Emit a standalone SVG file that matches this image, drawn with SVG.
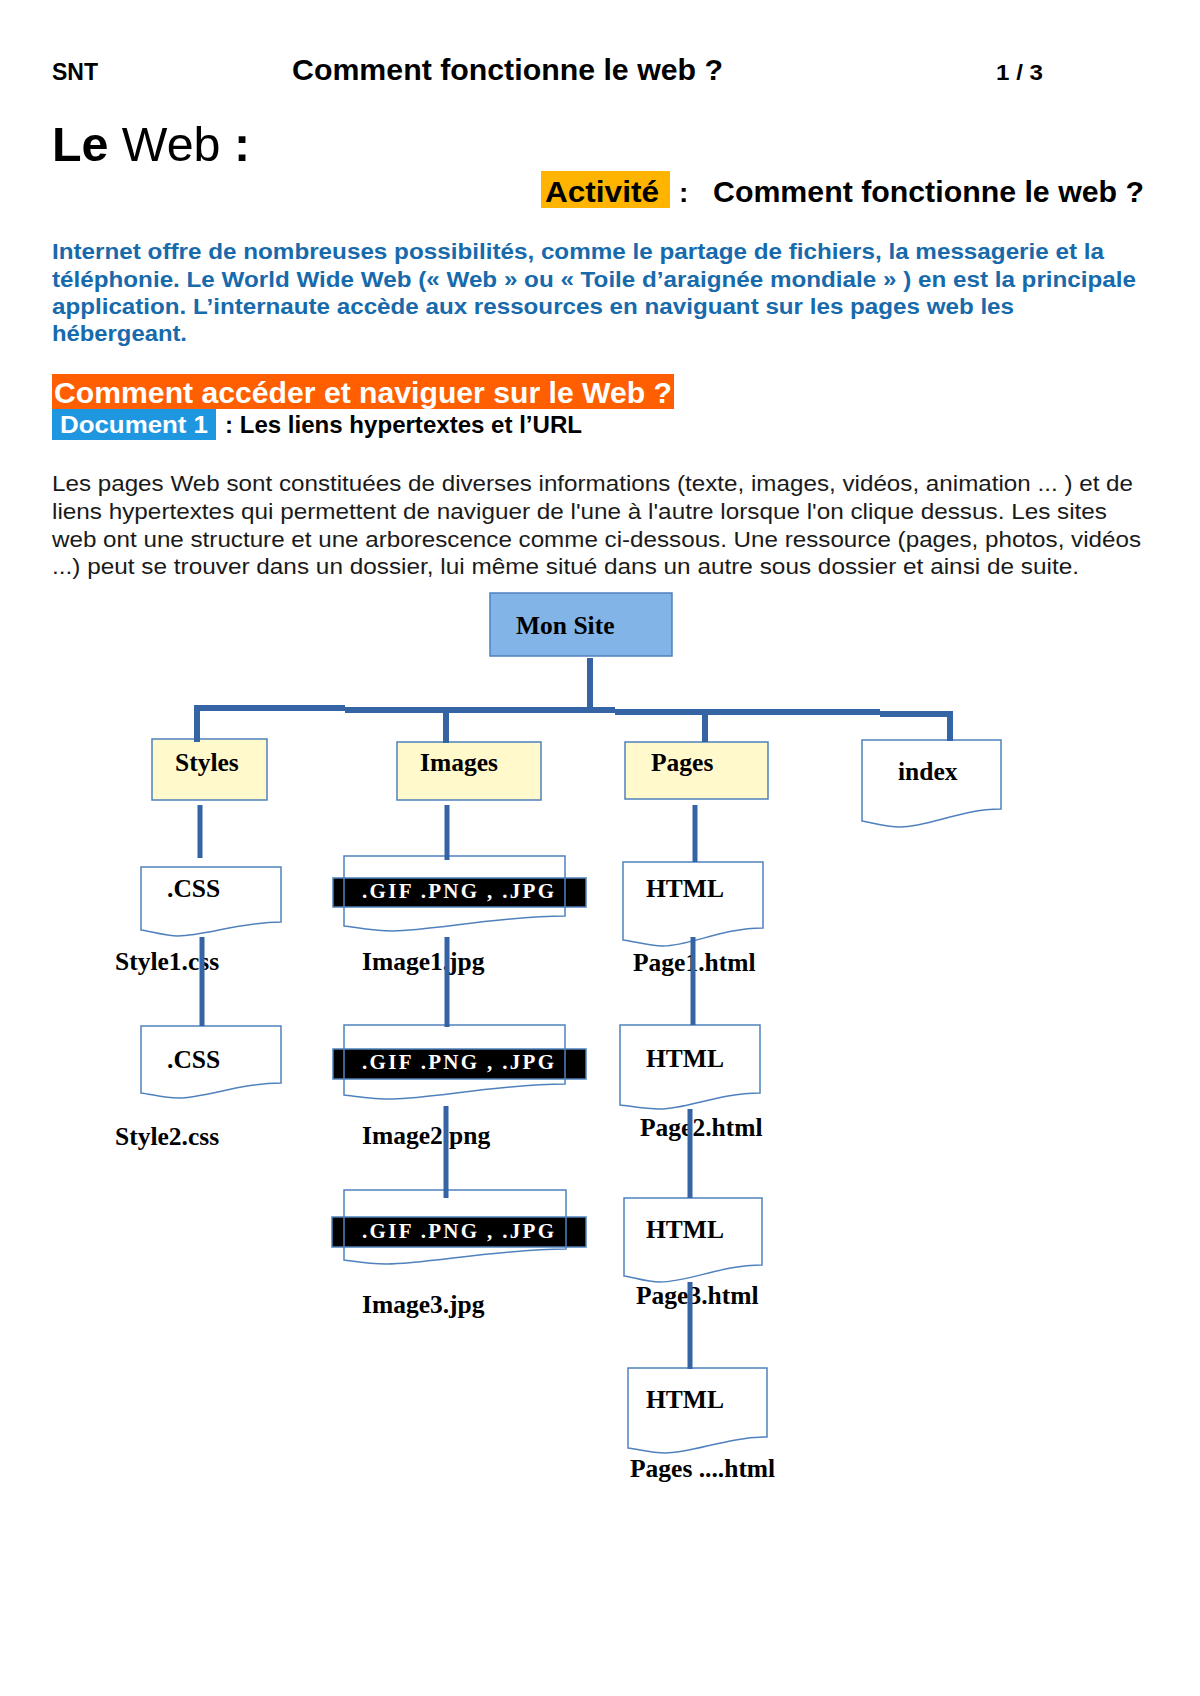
<svg xmlns="http://www.w3.org/2000/svg" width="1200" height="1696" viewBox="0 0 1200 1696">
<style>
.sans{font-family:"Liberation Sans",Arial,sans-serif}
.b{font-weight:bold}
.blue{fill:#176aab;font-family:"Liberation Sans",Arial,sans-serif;font-weight:bold;font-size:21.5px}
.blk{fill:#1a1a1a;font-family:"Liberation Sans",Arial,sans-serif;font-size:22px}
.lbl{font-family:"Liberation Serif","Times New Roman",serif;font-weight:bold;font-size:25.5px;fill:#000}
.bar{fill:#000;stroke:#4f81bd;stroke-width:1.5}
.bartxt{font-family:"Liberation Serif","Times New Roman",serif;font-weight:bold;font-size:21px;fill:#fff}
.doc{fill:none;stroke:#4f81bd;stroke-width:1.5}
.docw{fill:#fff;stroke:#4f81bd;stroke-width:1.5}
.folder{fill:#fff9cc;stroke:#4f81bd;stroke-width:1.5}
.con{stroke:#3464a4;stroke-width:5;fill:none}
.conb{stroke:#3464a4;stroke-width:6;fill:none}
</style>
<rect width="1200" height="1696" fill="#fff"/>

<!-- header -->
<text class="sans b" x="52" y="80" font-size="23">SNT</text>
<text class="sans b" x="292" y="80" font-size="30" textLength="431" lengthAdjust="spacingAndGlyphs">Comment fonctionne le web ?</text>
<text class="sans b" x="996" y="80" font-size="22" textLength="47" lengthAdjust="spacingAndGlyphs">1 / 3</text>
<text class="sans" x="52" y="161" font-size="49" textLength="198" lengthAdjust="spacingAndGlyphs"><tspan font-weight="bold">Le</tspan> Web <tspan font-weight="bold">:</tspan></text>
<rect x="541" y="171" width="129" height="37" fill="#ffb400"/>
<text class="sans b" x="545" y="202" font-size="30" textLength="114" lengthAdjust="spacingAndGlyphs">Activité</text>
<text class="sans b" x="679" y="202" font-size="28">:</text>
<text class="sans b" x="713" y="202" font-size="30" textLength="431" lengthAdjust="spacingAndGlyphs">Comment fonctionne le web ?</text>

<!-- blue paragraph -->
<text class="blue" x="52" y="259" textLength="1052" lengthAdjust="spacingAndGlyphs">Internet offre de nombreuses possibilités, comme le partage de fichiers, la messagerie et la</text>
<text class="blue" x="52" y="287" textLength="1084" lengthAdjust="spacingAndGlyphs">téléphonie. Le World Wide Web (« Web » ou « Toile d’araignée mondiale » ) en est la principale</text>
<text class="blue" x="52" y="314" textLength="962" lengthAdjust="spacingAndGlyphs">application. L’internaute accède aux ressources en naviguant sur les pages web les</text>
<text class="blue" x="52" y="341" textLength="135" lengthAdjust="spacingAndGlyphs">hébergeant.</text>

<!-- section header -->
<rect x="52" y="374" width="622" height="35" fill="#ff5f00"/>
<text class="sans b" x="54" y="403" font-size="29" fill="#fff" textLength="618" lengthAdjust="spacingAndGlyphs">Comment accéder et naviguer sur le Web ?</text>
<rect x="52" y="409" width="164" height="31" fill="#1f97e0"/>
<text class="sans b" x="60" y="433" font-size="24" fill="#fff" textLength="148" lengthAdjust="spacingAndGlyphs">Document 1</text>
<text class="sans b" x="225" y="433" font-size="24" textLength="357" lengthAdjust="spacingAndGlyphs">: Les liens hypertextes et l’URL</text>

<!-- black paragraph -->
<text class="blk" x="52" y="491" textLength="1081" lengthAdjust="spacingAndGlyphs">Les pages Web sont constituées de diverses informations (texte, images, vidéos, animation ... ) et de</text>
<text class="blk" x="52" y="519" textLength="1055" lengthAdjust="spacingAndGlyphs">liens hypertextes qui permettent de naviguer de l'une à l'autre lorsque l'on clique dessus. Les sites</text>
<text class="blk" x="52" y="547" textLength="1089" lengthAdjust="spacingAndGlyphs">web ont une structure et une arborescence comme ci-dessous. Une ressource (pages, photos, vidéos</text>
<text class="blk" x="52" y="574" textLength="1027" lengthAdjust="spacingAndGlyphs">...) peut se trouver dans un dossier, lui même situé dans un autre sous dossier et ainsi de suite.</text>

<!-- nodes -->
<g id="mon-site">
<rect x="490" y="593" width="182" height="63" fill="#83b4e8" stroke="#4f81bd" stroke-width="1.5"/>
<text class="lbl" x="516" y="634" font-size="26">Mon Site</text>
</g>
<g id="styles">
<rect class="folder" x="152" y="739" width="115" height="61"/>
<text class="lbl" x="175" y="771">Styles</text>
</g>
<g id="images">
<rect class="folder" x="397" y="742" width="144" height="58"/>
<text class="lbl" x="420" y="771">Images</text>
</g>
<g id="pages">
<rect class="folder" x="625" y="742" width="143" height="57"/>
<text class="lbl" x="651" y="771">Pages</text>
</g>
<g id="index">
<path class="docw" d="M862,740 H1001 V809 C960,809 930,827 900,827 C885,827 870,822 862,821 Z"/>
<text class="lbl" x="898" y="780">index</text>
</g>

<g id="css1">
<path class="docw" d="M141,867 H281 V922 C240,922 205,936 178,936 C165,936 150,931 141,930 Z"/>
<text class="lbl" x="167" y="897">.CSS</text>
<text class="lbl" x="115" y="970">Style1.css</text>
</g>
<g id="css2">
<path class="docw" d="M141,1026 H281 V1083 C240,1083 205,1098 178,1098 C165,1098 150,1094 141,1093 Z"/>
<text class="lbl" x="167" y="1068">.CSS</text>
<text class="lbl" x="115" y="1145">Style2.css</text>
</g>

<g id="image1">
<rect class="bar" x="333" y="878" width="253" height="29"/>
<text class="bartxt" x="362" y="898" textLength="192" lengthAdjust="spacing">.GIF  .PNG , .JPG</text>
<path class="doc" d="M344,856 H565 V916 C500,916 430,931 393,931 C370,931 355,927 344,926 Z"/>
<text class="lbl" x="362" y="970">Image1.jpg</text>
</g>
<g id="image2">
<rect class="bar" x="333" y="1049" width="253" height="30"/>
<text class="bartxt" x="362" y="1069" textLength="192" lengthAdjust="spacing">.GIF  .PNG , .JPG</text>
<path class="doc" d="M344,1025 H565 V1084 C500,1084 430,1099 393,1099 C370,1099 355,1096 344,1095 Z"/>
<text class="lbl" x="362" y="1144">Image2.png</text>
</g>
<g id="image3">
<rect class="bar" x="332" y="1217" width="254" height="30"/>
<text class="bartxt" x="362" y="1238" textLength="192" lengthAdjust="spacing">.GIF  .PNG , .JPG</text>
<path class="doc" d="M344,1190 H566 V1249 C500,1249 425,1264 387,1264 C366,1264 353,1261 344,1260 Z"/>
<text class="lbl" x="362" y="1313">Image3.jpg</text>
</g>

<g id="page1">
<path class="docw" d="M623,862 H763 V928 C722,928 690,946 663,946 C648,946 633,941 623,940 Z"/>
<text class="lbl" x="646" y="897">HTML</text>
<text class="lbl" x="633" y="971">Page1.html</text>
</g>
<g id="page2">
<path class="docw" d="M620,1025 H760 V1093 C719,1093 687,1109 660,1109 C645,1109 630,1106 620,1105 Z"/>
<text class="lbl" x="646" y="1067">HTML</text>
<text class="lbl" x="640" y="1136">Page2.html</text>
</g>
<g id="page3">
<path class="docw" d="M624,1198 H762 V1265 C722,1265 688,1282 660,1282 C646,1282 633,1277 624,1276 Z"/>
<text class="lbl" x="646" y="1238">HTML</text>
<text class="lbl" x="636" y="1304">Page3.html</text>
</g>
<g id="page4">
<path class="docw" d="M628,1368 H767 V1437 C727,1437 693,1453 665,1453 C651,1453 638,1449 628,1448 Z"/>
<text class="lbl" x="646" y="1408">HTML</text>
<text class="lbl" x="630" y="1477">Pages ....html</text>
</g>

<!-- connectors -->
<g id="connectors">
<path class="conb" d="M590,658 V713"/>
<path class="conb" d="M194,708 H345"/>
<path class="conb" d="M345,710 H615"/>
<path class="conb" d="M615,712 H880"/>
<path class="conb" d="M880,714 H951"/>
<path class="conb" d="M197,705 V742"/>
<path class="conb" d="M446,708 V743"/>
<path class="conb" d="M705,710 V742"/>
<path class="conb" d="M950,711 V741"/>
<path class="con" d="M200,805 V858"/>
<path class="con" d="M202,937 V1026"/>
<path class="con" d="M447,805 V860"/>
<path class="con" d="M447,937 V1027"/>
<path class="con" d="M446,1106 V1198"/>
<path class="con" d="M695,805 V862"/>
<path class="con" d="M693,937 V1025"/>
<path class="con" d="M690,1109 V1198"/>
<path class="con" d="M690,1282 V1369"/>
</g>
</svg>
